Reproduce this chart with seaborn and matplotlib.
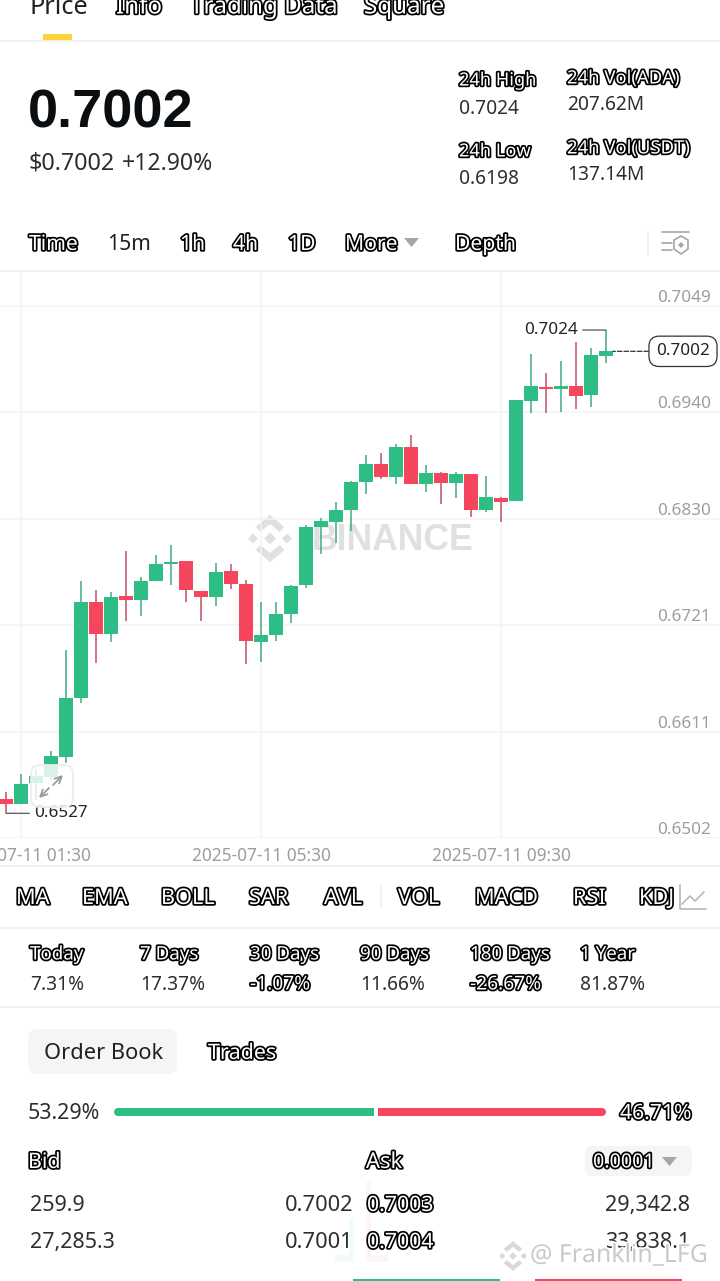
import numpy as np
import pandas as pd
import seaborn as sns
import matplotlib.pyplot as plt
from matplotlib.patches import FancyBboxPatch, Polygon, Rectangle
from matplotlib import patheffects as pe

# candles, 15m, oldest first
opens = [0.65418, 0.65370, 0.65582, 0.65650, 0.65853, 0.66459, 0.67450, 0.67121, 0.67511, 0.67470,
         0.67662, 0.67834, 0.67871, 0.67563, 0.67501, 0.67762, 0.67632, 0.67032, 0.67110, 0.67323,
         0.67621, 0.68221, 0.68272, 0.68392, 0.68683, 0.68862, 0.68735, 0.69043, 0.68657, 0.68773,
         0.68667, 0.68763, 0.68396, 0.68513, 0.68485, 0.69516, 0.69654, 0.69634, 0.69664, 0.69575,
         0.69976]
closes = [0.65370, 0.65578, 0.65657, 0.65863, 0.66459, 0.67443, 0.67121, 0.67501, 0.67470, 0.67662,
          0.67834, 0.67861, 0.67570, 0.67501, 0.67752, 0.67632, 0.67042, 0.67110, 0.67320, 0.67611,
          0.68221, 0.68279, 0.68392, 0.68680, 0.68862, 0.68735, 0.69043, 0.68657, 0.68770, 0.68667,
          0.68763, 0.68396, 0.68523, 0.68475, 0.69523, 0.69664, 0.69634, 0.69664, 0.69568, 0.69983,
          0.70024]
highs = [0.65496, 0.65678, 0.65733, 0.65915, 0.66953, 0.67662, 0.67570, 0.67549, 0.67971, 0.67704,
         0.67930, 0.68033, 0.67871, 0.67563, 0.67851, 0.67840, 0.67670, 0.67443, 0.67450, 0.67621,
         0.68235, 0.68307, 0.68472, 0.68688, 0.68955, 0.68975, 0.69071, 0.69164, 0.68855, 0.68783,
         0.68783, 0.68763, 0.68742, 0.68523, 0.69523, 0.69996, 0.69804, 0.69924, 0.70117, 0.70055,
         0.70243]
lows = [0.65274, 0.65370, 0.65411, 0.65609, 0.65794, 0.66411, 0.66822, 0.67032, 0.67254, 0.67303,
        0.67662, 0.67621, 0.67443, 0.67251, 0.67402, 0.67583, 0.66812, 0.66830, 0.67042, 0.67234,
        0.67594, 0.67943, 0.68056, 0.68177, 0.68557, 0.68711, 0.68663, 0.68657, 0.68574, 0.68454,
        0.68513, 0.68324, 0.68375, 0.68272, 0.68485, 0.69393, 0.69393, 0.69403, 0.69428, 0.69455,
        0.69907]

y_ticks = [0.7049, 0.6940, 0.6830, 0.6721, 0.6611, 0.6502]
time_ticks = [1, 17, 33]
time_labels = ["2025-07-11 01:30", "2025-07-11 05:30", "2025-07-11 09:30"]

tabs = ["Info", "Trading Data", "Square"]
tab_x = [116, 190, 364]
frames = ["Time", "1h", "4h", "1D", "More", "Depth"]
frame_x = [29, 180, 233, 288, 345, 455]
indicators = ["MA", "EMA", "BOLL", "SAR", "AVL", "VOL", "MACD", "RSI", "KDJ"]
indicator_x = [16, 82, 161, 249, 324, 398, 475, 573, 639]
periods = ["Today", "7 Days", "30 Days", "90 Days", "180 Days", "1 Year"]
period_returns = ["7.31%", "17.37%", "-1.07%", "11.66%", "-26.67%", "81.87%"]
period_x = [30, 140, 250, 360, 470, 580]
bid_share = 53.29
ask_share = 46.71
bid_size = ["259.9", "27,285.3"]
bid_price = ["0.7002", "0.7001"]
ask_price = ["0.7003", "0.7004"]
ask_size = ["29,342.8", "33,838.1"]

GREEN = "#2ebd85"
RED = "#f6465d"
GREEN_WICK = "#45ad88"
RED_WICK = "#c4566c"
GRID = "#f3f4f5"
LINE = "#eeeff1"
GREY = "#9a9ea3"
INK = "#222426"

sns.set_theme(style="white")
plt.rcParams["font.family"] = ["Noto Sans", "DejaVu Sans"]

W, H = 720, 1281
fig = plt.figure(figsize=(W / 100, H / 100), dpi=100, facecolor="white")


def pixel_axes(z):
    a = fig.add_axes([0, 0, 1, 1], zorder=z)
    a.set_xlim(0, W)
    a.set_ylim(H, 0)
    a.axis("off")
    a.patch.set_alpha(0)
    return a


bg = pixel_axes(0)
ui = pixel_axes(3)

# chart axes: 271..838 px tall, one candle every 15 px
ax = fig.add_axes([0, (H - 838) / H, 1, (838 - 271) / H], zorder=1)
ax.patch.set_alpha(0)

df = pd.DataFrame({"opens": opens, "closes": closes, "highs": highs, "lows": lows})
df["idx"] = df.index
df["up"] = df.closes >= df.opens
df["body"] = (df.closes - df.opens).abs()
df["body_low"] = df[["opens", "closes"]].min(axis=1)

for up, color, wick in [(True, GREEN, GREEN_WICK), (False, RED, RED_WICK)]:
    part = df[df.up == up]
    ax.vlines(part.idx, part.lows, part.highs, color=wick, lw=1.15, zorder=2)
    sns.barplot(data=part, x="idx", y="body", bottom=part.body_low.to_numpy(), native_scale=True,
                width=0.87, color=color, saturation=1, errorbar=None, linewidth=0, ax=ax, zorder=3)

ax.set_xlim(-0.4, 47.6)
ax.set_ylim(y_ticks[-1], y_ticks[0] + 35 * (y_ticks[0] - y_ticks[-1]) / 532)
ax.set_xticks(time_ticks, time_labels)
ax.set_yticks(y_ticks, [f"{v:.4f}" for v in y_ticks])
ax.set_xlabel("")
ax.set_ylabel("")
ax.grid(True, color=GRID, lw=1.1)
ax.set_axisbelow(True)
sns.despine(ax=ax, left=True, bottom=True, right=True, top=True)
ax.tick_params(axis="x", length=0, pad=6.2, labelsize=12.45, labelcolor=GREY)
ax.tick_params(axis="y", length=0, left=False, right=False, labelleft=False, labelright=True,
               pad=-45.3, labelsize=12.3, labelcolor=GREY)
for lab in ax.get_yticklabels():
    lab.set_va("bottom")

last = df.index[-1]
ax.annotate(f"{max(highs):.4f}", xy=(df.highs.idxmax(), max(highs)), xytext=(-28, 0),
            textcoords="offset pixels", ha="right", va="center", fontsize=12.3, color=INK,
            annotation_clip=False,
            arrowprops=dict(arrowstyle="-", color="#555555", lw=0.9, relpos=(1, 0.5), shrinkA=1, shrinkB=0))
ax.annotate(f"{min(lows):.4f}", xy=(df.lows.idxmin(), min(lows)), xytext=(28, 0),
            textcoords="offset pixels", ha="left", va="center", fontsize=12.3, color=INK,
            annotation_clip=False,
            arrowprops=dict(arrowstyle="-", color="#555555", lw=0.9, relpos=(0, 0.5), shrinkA=1, shrinkB=0))
ax.annotate(f"{closes[-1]:.4f}", xy=(last, closes[-1]), xytext=(77, 0),
            textcoords="offset pixels", ha="center", va="center", fontsize=12.3, color=INK,
            annotation_clip=False,
            bbox=dict(boxstyle="round,pad=0.42,rounding_size=0.6", fc="white", ec="#333333", lw=0.9),
            arrowprops=dict(arrowstyle="-", linestyle="--", color="#333333", lw=0.9, shrinkA=0, shrinkB=5))


def put(x, y, s, size=15.5, ha="left", outline=False, color=INK, weight="normal", a=None):
    a = a or ui
    y = y + 1.5
    if outline:
        t = a.text(x, y, s, fontsize=size, ha=ha, va="center", color="white", weight=weight)
        t.set_path_effects([pe.Stroke(linewidth=2.5, foreground="black"), pe.Normal()])
    else:
        t = a.text(x, y, s, fontsize=size, ha=ha, va="center", color=color, weight=weight)
    return t


def rule(y, x0=0, x1=W):
    ui.plot([x0, x1], [y, y], color=LINE, lw=1.2, solid_capstyle="butt")


def triangle(x0, x1, y0, y1):
    ui.add_patch(Polygon([(x0, y0), (x1, y0), ((x0 + x1) / 2, y1)], fc="#a3a6aa", ec="none"))


def soft_box(x0, y0, x1, y1, r=8, fc="#f5f5f5", ec="none", lw=0, a=None):
    (a or ui).add_patch(FancyBboxPatch((x0 + r, y0 + r), x1 - x0 - 2 * r, y1 - y0 - 2 * r,
                                       boxstyle=f"round,pad={r},rounding_size={r}",
                                       fc=fc, ec=ec, lw=lw))


def binance_logo(a, cx, cy, r, color):
    u = r / 22
    lw = 5.0 * u
    a.add_patch(Polygon([(cx - 6 * u, cy), (cx, cy - 6 * u), (cx + 6 * u, cy), (cx, cy + 6 * u)], fc=color, ec="none"))
    for sx in (-1, 1):
        a.add_patch(Polygon([(cx + sx * 22 * u, cy), (cx + sx * 17 * u, cy - 5 * u),
                             (cx + sx * 12 * u, cy), (cx + sx * 17 * u, cy + 5 * u)], fc=color, ec="none"))
    for sy in (-1, 1):
        a.plot([cx - 12 * u, cx, cx + 12 * u], [cy + sy * 9 * u, cy + sy * 19 * u, cy + sy * 9 * u],
               color=color, lw=lw, solid_joinstyle="miter", solid_capstyle="butt")


# watermark sits under the candles
binance_logo(bg, 270, 538.5, 22, "#e0e0e0")
bg.text(312, 541, "BINANCE", fontsize=25.6, weight="bold", family="Liberation Sans",
        color="#e0e0e0", ha="left", va="center")

# top tabs
put(29, 6, "Price", size=18.2, color="#1e2023")
for name, x in zip(tabs, tab_x):
    put(x, 6, name, size=17.4, outline=True)
ui.add_patch(Rectangle((43, 34), 29, 6, fc="#fcd535", ec="none"))
rule(40.5)

# ticker block
ui.text(28, 114, f"{closes[-1]:.4f}", fontsize=39, weight="bold", family="Liberation Sans",
        color="#0b0e11", ha="left", va="center")
put(28, 162, f"${closes[-1]:.4f}", size=16.8, color="#2b2f33")
put(122, 162, "+12.90%", size=16.6, color="#2b2f33")
put(459, 79, "24h High", size=13.1, outline=True)
put(459, 107, "0.7024", size=13.8, color="#2b2f33")
put(459, 150, "24h Low", size=13.1, outline=True)
put(459, 177, "0.6198", size=13.8, color="#2b2f33")
put(567, 77, "24h Vol(ADA)", size=13.3, outline=True)
put(567, 104, "207.62M", size=13.8, color="#2b2f33")
put(567, 147, "24h Vol(USDT)", size=13.3, outline=True)
put(567, 174, "137.14M", size=13.8, color="#2b2f33")

# timeframe row
for name, x in zip(frames, frame_x):
    put(x, 243, name, size=15.2, outline=True)
put(107, 243, "15m", size=15.2, color="#1e2023")
triangle(404, 419, 238, 247)
ui.plot([648, 648], [231, 255], color=LINE, lw=1.2)
ui.plot([662, 689], [232, 232], color="#a3a6aa", lw=1.2)
ui.plot([662, 672], [243, 243], color="#a3a6aa", lw=1.2)
ui.plot([662, 672], [250, 250], color="#a3a6aa", lw=1.2)
ui.add_patch(Polygon([(681, 236), (688, 240), (688, 249), (681, 254), (674, 249), (674, 240)],
                     fc="none", ec="#a3a6aa", lw=1.2))
ui.add_patch(Polygon([(681, 242), (684, 245), (681, 248), (678, 245)], fc="#a3a6aa", ec="none"))
rule(271)

# expand button over the first candles
soft_box(31, 765, 73, 807, r=9, fc=(1, 1, 1, 0.82), ec="#ececec", lw=1.3)
ui.annotate("", xy=(63, 775), xytext=(53, 785), arrowprops=dict(arrowstyle="->", color="#9a9a9a", lw=1.3, shrinkA=0, shrinkB=0))
ui.annotate("", xy=(39, 798), xytext=(49, 788), arrowprops=dict(arrowstyle="->", color="#9a9a9a", lw=1.3, shrinkA=0, shrinkB=0))

rule(866)
# indicators
for name, x in zip(indicators, indicator_x):
    put(x, 897, name, size=15.6, outline=True)
ui.add_patch(Rectangle((662, 880), 58, 34, fc=(1, 1, 1, 0.8), ec="none"))
ui.plot([381, 381], [886, 908], color=LINE, lw=1.2)
ui.plot([680, 680, 706], [885, 909, 909], color="#b5b8bb", lw=1.2)
ui.plot([682, 690, 695, 704], [904, 896, 901, 892], color="#b5b8bb", lw=1.2)
rule(928)

# period returns
for name, val, x in zip(periods, period_returns, period_x):
    put(x, 953, name, size=13.5, outline=True)
    put(x, 983, val, size=13.8, outline=val.startswith("-"), color="#2b2f33")
rule(1007)

# order book
soft_box(28, 1029, 177, 1074, r=10)
put(44, 1052, "Order Book", size=15.7, color="#1e2023")
put(208, 1052, "Trades", size=15.4, outline=True)

put(28, 1112, f"{bid_share:.2f}%", size=15.4, color="#2b2f33")
put(620, 1112, f"{ask_share:.2f}%", size=15.2, outline=True)
bar_left, bar_right = 114, 606
split = bar_left + (bar_right - bar_left) * bid_share / (bid_share + ask_share)
ui.plot([bar_left + 4, split - 8], [1112, 1112], color=GREEN, lw=5.8, solid_capstyle="round")
ui.plot([split - 10, split - 2], [1112, 1112], color=GREEN, lw=5.8, solid_capstyle="butt")
ui.plot([split + 2, split + 10], [1112, 1112], color=RED, lw=5.8, solid_capstyle="butt")
ui.plot([split + 8, bar_right - 4], [1112, 1112], color=RED, lw=5.8, solid_capstyle="round")

put(28, 1161, "Bid", size=15.4, outline=True)
put(366, 1161, "Ask", size=15.8, outline=True)
soft_box(585, 1146, 692, 1176, r=7)
put(593, 1161, "0.0001", size=14.2, outline=True)
triangle(662, 677, 1157, 1166)

# faint depth bars behind the rows
ui.add_patch(Rectangle((366, 1182), 5, 80, fc="#fef3f5", ec="none"))
ui.add_patch(Rectangle((366, 1255), 22, 7, fc="#fef3f5", ec="none"))
ui.add_patch(Rectangle((349, 1218), 5, 44, fc="#f1fbf7", ec="none"))
ui.add_patch(Rectangle((335, 1255), 19, 7, fc="#f1fbf7", ec="none"))

for i, row_y in enumerate([1204, 1241]):
    put(30, row_y, bid_size[i], size=15.4, color="#2b2f33")
    put(353, row_y, bid_price[i], size=15.7, ha="right", color="#2b2f33")
    put(367, row_y, ask_price[i], size=15.3, outline=True)
    put(690, row_y, ask_size[i], size=15.5, ha="right", color="#2b2f33")

# action buttons just peek in at the bottom
ui.add_patch(Rectangle((353, 1279), 147, 3, fc=GREEN, ec="none"))
ui.add_patch(Rectangle((535, 1279), 147, 3, fc=RED, ec="none"))

# footer watermark
binance_logo(ui, 513, 1256, 14, "#d9d9d9")
t = put(530, 1254, "@ Franklin_LFG", size=17.9, color="#c9c9c9")
t.set_path_effects([pe.Stroke(linewidth=2.2, foreground="white"), pe.Normal()])

fig.savefig("out.png", dpi=100, facecolor="white")
